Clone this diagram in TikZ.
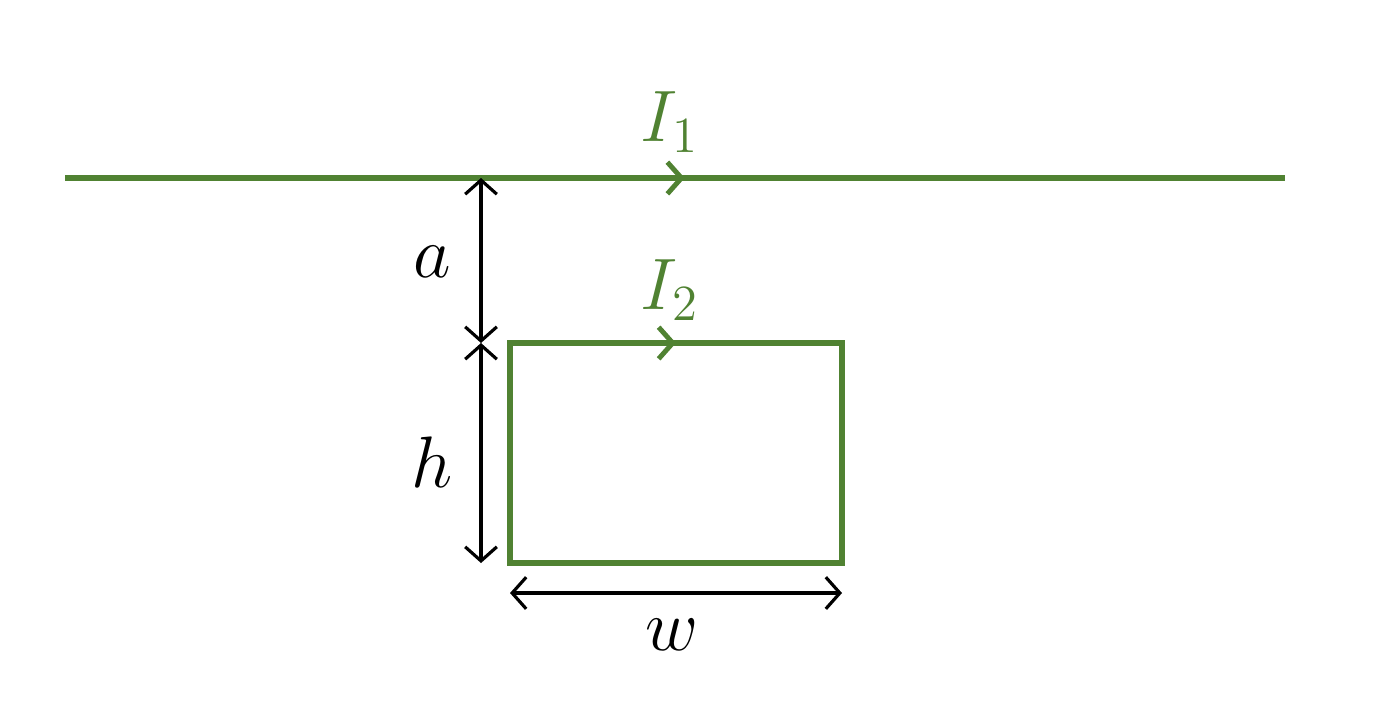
\documentclass[tikz,border=0pt]{standalone}
\usetikzlibrary{arrows.meta,decorations.markings}
\begin{document}
\begin{tikzpicture}[x=0.01cm,y=-0.01cm,
  wire/.style={draw={rgb,255:red,80;green,130;blue,50},line width=1.7pt},
  midarrow/.style={postaction={decorate},decoration={markings,mark=at position #1 with {\arrow{Straight Barb[length=4pt,width=9pt,line width=1.4pt]}}}},
  dim/.style={draw=black,line width=0.9pt,{Straight Barb[length=4pt,width=9pt]}-{Straight Barb[length=4pt,width=9pt]}},
  lab/.style={font=\fontsize{21}{24}\selectfont},
  glab/.style={lab,text={rgb,255:red,80;green,130;blue,50}}]
\useasboundingbox (0,0) rectangle (1394,726);
\coordinate (L) at (65,178); \coordinate (R) at (1285,178);
\draw[wire,midarrow=0.508] (L) -- (R);
\coordinate (A) at (510,343); \coordinate (B) at (842,343);
\coordinate (C) at (842,563); \coordinate (D) at (510,563);
\draw[wire,line join=miter] (A) -- (B) -- (C) -- (D) -- cycle;
\draw[wire,draw=none,midarrow=0.5] (A) -- (B);
\coordinate (t1) at (481,178); \coordinate (t2) at (481,343); \coordinate (t3) at (481,563);
\draw[dim] (t1) -- (t2);
\draw[dim] (t2) -- (t3);
\coordinate (w1) at (510,593); \coordinate (w2) at (842,593);
\draw[dim] (w1) -- (w2);
\node[glab] (i1) at (670,122) {$I_1$};
\node[glab] (i2) at (670,290) {$I_2$};
\node[lab] (a) at (432,262) {$a$};
\node[lab] (h) at (432,462) {$h$};
\node[lab] (w) at (672,635) {$w$};
\end{tikzpicture}
\end{document}
